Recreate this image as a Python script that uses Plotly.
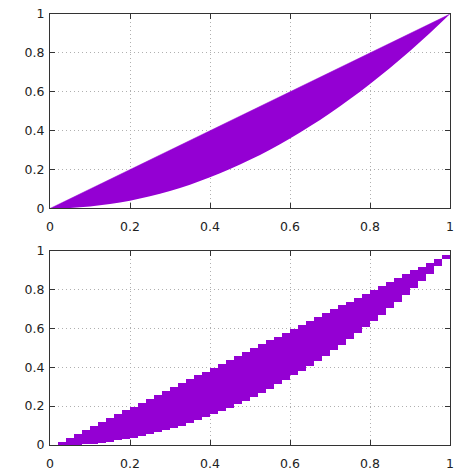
import plotly.graph_objects as go
from plotly.subplots import make_subplots

# top panel: band between the two curves
curve_x = [0, 0.05, 0.1, 0.15, 0.2, 0.25, 0.3, 0.35, 0.4, 0.45, 0.5,
           0.55, 0.6, 0.65, 0.7, 0.75, 0.8, 0.85, 0.9, 0.95, 1]
curve_hi = [0, 0.05, 0.1, 0.15, 0.2, 0.25, 0.3, 0.35, 0.4, 0.45, 0.5,
            0.55, 0.6, 0.65, 0.7, 0.75, 0.8, 0.85, 0.9, 0.95, 1]
curve_lo = [0, 0.0025, 0.01, 0.0225, 0.04, 0.0625, 0.09, 0.1225, 0.16, 0.2025, 0.25,
            0.3025, 0.36, 0.4225, 0.49, 0.5625, 0.64, 0.7225, 0.81, 0.9025, 1]

# bottom panel: boxes, left edge / top / bottom
box_left = [0, 0.02, 0.04, 0.06, 0.08, 0.1, 0.12, 0.14, 0.16, 0.18,
            0.2, 0.22, 0.24, 0.26, 0.28, 0.3, 0.32, 0.34, 0.36, 0.38,
            0.4, 0.42, 0.44, 0.46, 0.48, 0.5, 0.52, 0.54, 0.56, 0.58,
            0.6, 0.62, 0.64, 0.66, 0.68, 0.7, 0.72, 0.74, 0.76, 0.78,
            0.8, 0.82, 0.84, 0.86, 0.88, 0.9, 0.92, 0.94, 0.96, 0.98]
box_top = [0, 0.02, 0.04, 0.06, 0.08, 0.1, 0.12, 0.14, 0.16, 0.18,
           0.2, 0.22, 0.24, 0.26, 0.28, 0.3, 0.32, 0.34, 0.36, 0.38,
           0.4, 0.42, 0.44, 0.46, 0.48, 0.5, 0.52, 0.54, 0.56, 0.58,
           0.6, 0.62, 0.64, 0.66, 0.68, 0.7, 0.72, 0.74, 0.76, 0.78,
           0.8, 0.82, 0.84, 0.86, 0.88, 0.9, 0.92, 0.94, 0.96, 0.98]
box_bot = [0, 0.0004, 0.0016, 0.0036, 0.0064, 0.01, 0.0144, 0.0196, 0.0256, 0.0324,
           0.04, 0.0484, 0.0576, 0.0676, 0.0784, 0.09, 0.1024, 0.1156, 0.1296, 0.1444,
           0.16, 0.1764, 0.1936, 0.2116, 0.2304, 0.25, 0.2704, 0.2916, 0.3136, 0.3364,
           0.36, 0.3844, 0.4096, 0.4356, 0.4624, 0.49, 0.5184, 0.5476, 0.5776, 0.6084,
           0.64, 0.6724, 0.7056, 0.7396, 0.7744, 0.81, 0.8464, 0.8836, 0.9216, 0.9604]

ticks = [0, 0.2, 0.4, 0.6, 0.8, 1]
tick_text = ["0", "0.2", "0.4", "0.6", "0.8", "1"]
violet = "#9400d3"

fig = make_subplots(rows=2, cols=1, vertical_spacing=0.0976)

fig.add_trace(go.Scatter(x=curve_x, y=curve_lo, mode="lines",
                         line=dict(width=0, shape="spline", color=violet),
                         showlegend=False, hoverinfo="skip"), row=1, col=1)
fig.add_trace(go.Scatter(x=curve_x, y=curve_hi, mode="lines", fill="tonexty",
                         fillcolor=violet, line=dict(width=0.5, color=violet),
                         showlegend=False), row=1, col=1)

fig.add_trace(go.Bar(x=box_left, y=[t - b for t, b in zip(box_top, box_bot)],
                     base=box_bot, width=0.02, offset=0,
                     marker=dict(color=violet, line=dict(width=0)),
                     showlegend=False), row=2, col=1)

axis_style = dict(range=[0, 1], tickvals=ticks, ticktext=tick_text,
                  automargin=False, ticklabeloverflow="allow",
                  showline=True, linecolor="#333", linewidth=1, mirror="allticks",
                  ticks="inside", ticklen=5, tickcolor="#333",
                  showgrid=True, gridcolor="#b0b0b0", griddash="1px,3px", gridwidth=1,
                  zeroline=False, tickfont=dict(size=12.5, color="#222"))
fig.update_xaxes(**axis_style, ticklabelstandoff=7)
fig.update_yaxes(**axis_style, ticklabelstandoff=2)

fig.update_layout(width=474, height=474, bargap=0,
                  margin=dict(l=50, r=24, t=14, b=29),
                  paper_bgcolor="white", plot_bgcolor="white",
                  font=dict(family="DejaVu Sans"))

# drop the default page margin so the figure fills the window
fig.write_html("out.html", config={"displayModeBar": False},
               post_script="document.body.style.margin='0';")
